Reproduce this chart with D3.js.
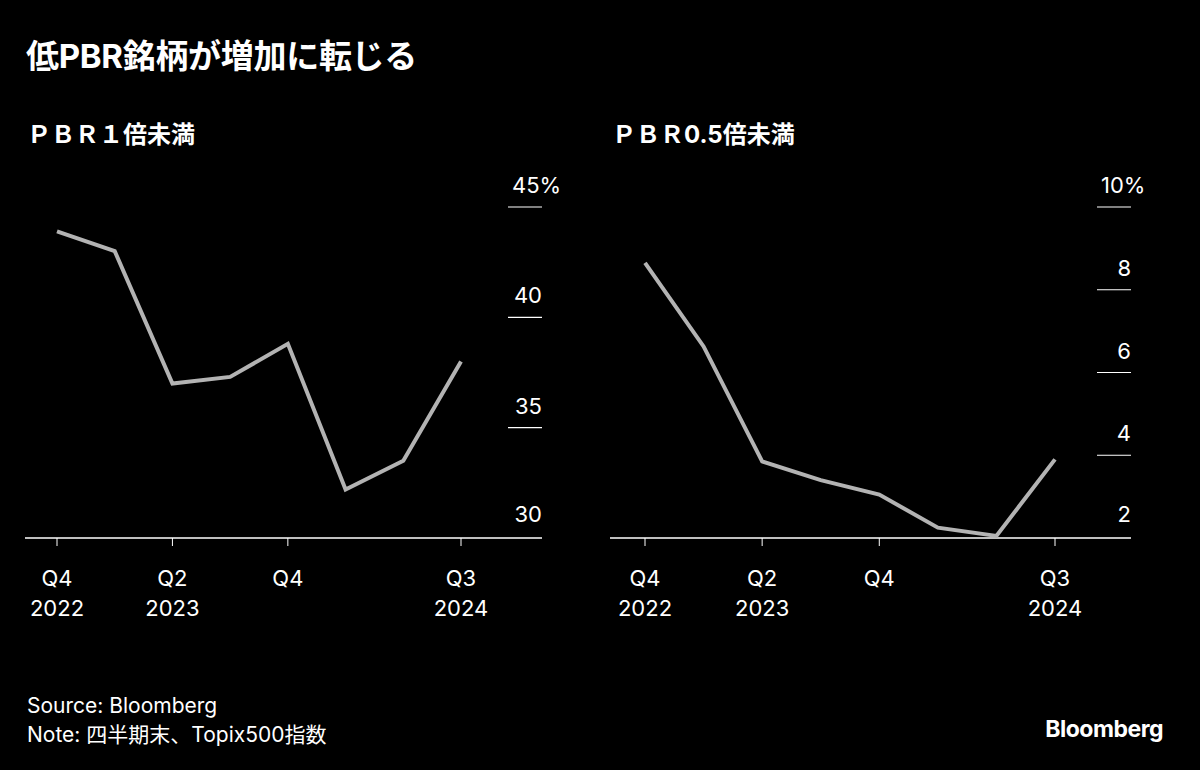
<!DOCTYPE html><html><head><meta charset="utf-8">
<script src="https://cdn.jsdelivr.net/npm/d3@7"></script>
<style>body{margin:0;background:#000}text{font-family:Inter,"Noto Sans CJK JP",sans-serif;fill:#fff}</style></head><body>
<script>
const quarters=["Q4 2022","Q1 2023","Q2 2023","Q3 2023","Q4 2023","Q1 2024","Q2 2024","Q3 2024"];
const xTickLabels={"Q4 2022":["Q4","2022"],"Q2 2023":["Q2","2023"],"Q4 2023":["Q4",""],"Q3 2024":["Q3","2024"]};
const below1=[43.9,43.0,37.0,37.3,38.8,32.2,33.5,38.0];
const below05=[8.65,6.63,3.85,3.4,3.05,2.25,2.05,3.9];
const ticks1=[30,35,40,45];
const ticks05=[2,4,6,8,10];
const W=1200,H=770;
const svg=d3.select("body").append("svg").attr("width",W).attr("height",H);
svg.append("rect").attr("width",W).attr("height",H).attr("fill","#000");
svg.append("text").attr("x",26).attr("y",68).attr("font-size",33).attr("font-weight",700).attr("letter-spacing",-0.3).text("低PBR銘柄が増加に転じる");
function panel(o){
  const g=svg.append("g");
  g.append("text").attr("x",o.x0).attr("y",143).attr("font-size",24).attr("font-weight",700).text(o.title);
  const x=d3.scalePoint().domain(quarters).range([o.xa,o.xb]);
  const y=d3.scaleLinear().domain(o.dom).range([538,207]);
  g.append("line").attr("x1",o.x0-2).attr("x2",o.tx+34).attr("y1",538).attr("y2",538).attr("stroke","#fff").attr("stroke-width",1.5);
  o.ticks.forEach((t,i)=>{
    if(y(t)<537) g.append("line").attr("x1",o.tx).attr("x2",o.tx+34).attr("y1",y(t)).attr("y2",y(t)).attr("stroke","#fff").attr("stroke-width",1.2);
    g.append("text").attr("x",o.tx+(i===o.ticks.length-1?4:34)).attr("y",Math.min(y(t),536)-14).attr("font-size",22).attr("text-anchor",i===o.ticks.length-1?"start":"end").text(t+(i===o.ticks.length-1?"%":""));
  });
  Object.keys(xTickLabels).forEach(q=>{
    g.append("line").attr("x1",x(q)).attr("x2",x(q)).attr("y1",538).attr("y2",546).attr("stroke","#fff");
    g.append("text").attr("x",x(q)).attr("y",586).attr("font-size",22).attr("text-anchor","middle").text(xTickLabels[q][0]);
    g.append("text").attr("x",x(q)).attr("y",616).attr("font-size",22).attr("text-anchor","middle").text(xTickLabels[q][1]);
  });
  g.append("path").datum(o.data).attr("fill","none").attr("stroke","#b3b3b3").attr("stroke-width",4)
   .attr("d",d3.line().x((d,i)=>x(quarters[i])).y(d=>y(d)));
}
panel({title:"ＰＢＲ１倍未満",x0:27,xa:57,xb:461,tx:508,dom:[30,45],ticks:ticks1,data:below1});
panel({title:"ＰＢＲ0.5倍未満",x0:612,xa:645,xb:1055,tx:1097,dom:[2,10],ticks:ticks05,data:below05});
svg.append("text").attr("x",27).attr("y",713).attr("font-size",21).text("Source: Bloomberg");
svg.append("text").attr("x",27).attr("y",742).attr("font-size",21).text("Note: 四半期末、Topix500指数");
svg.append("text").attr("x",1163).attr("y",737).attr("font-size",23).attr("font-weight",700).attr("letter-spacing",-0.5).attr("text-anchor","end").text("Bloomberg");
</script></body></html>
